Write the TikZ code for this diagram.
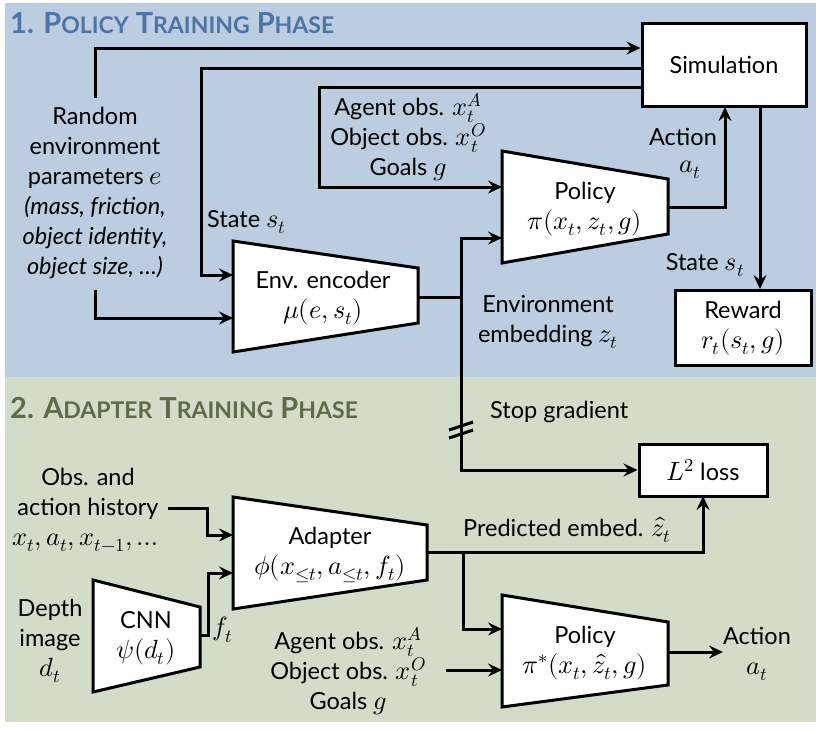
\documentclass[tikz,border=0pt]{standalone}
\usepackage{unicode-math}
\setmainfont{Lato}
\setmathfont{Latin Modern Math}[Scale=1.12]
\usetikzlibrary{arrows.meta}
\newcommand{\tsc}[2]{#1{\fontsize{23}{26}\selectfont #2}}
\begin{document}
\begin{tikzpicture}[x=1pt,y=-1pt,
  every node/.style={font=\fontsize{23.5}{30}\selectfont, inner sep=0pt},
  ln/.style={line width=3pt},
  ar/.style={line width=3pt,-{Stealth[length=14pt,width=13pt,inset=5pt]}},
  blk/.style={draw,line width=3pt,fill=white},
  txt/.style={align=center}]
\useasboundingbox (0,0) rectangle (825,731);
\fill[fill={rgb,255:red,188;green,204;blue,225}] (5,3) rectangle (816,377);
\fill[fill={rgb,255:red,211;green,220;blue,201}] (5,377) rectangle (816,722);
\node[anchor=base west,text={rgb,255:red,78;green,116;blue,166},font=\fontsize{29}{32}\selectfont\bfseries] (t1) at (10,33) {1. \tsc{P}{OLICY} \tsc{T}{RAINING} \tsc{P}{HASE}};
\node[anchor=base west,text={rgb,255:red,90;green,108;blue,72},font=\fontsize{29}{32}\selectfont\bfseries] (t2) at (10,418) {2. \tsc{A}{DAPTER} \tsc{T}{RAINING} \tsc{P}{HASE}};

% boxes
\node[blk,minimum width=164pt,minimum height=83pt] (sim) at (724,65) {Simulation};
\node[blk,minimum width=136pt,minimum height=75pt,txt] (rew) at (743,328) {Reward\\$r_t(s_t,g)$};
\node[blk,minimum width=128pt,minimum height=52pt] (loss) at (703,470) {$L^2$ loss};

% trapezoids
\draw[blk] (233,241) -- (418,268) -- (418,323) -- (233,352) -- cycle;
\node[txt] (enc) at (323,298) {Env. encoder\\$\mu(e,s_t)$};
\draw[blk] (502,151) -- (668,179) -- (668,234) -- (502,263) -- cycle;
\node[txt] (pol) at (585,209) {Policy\\$\pi(x_t,z_t,g)$};
\draw[blk] (233,497) -- (427,525) -- (427,580) -- (233,609) -- cycle;
\node[txt] (ada) at (330,555) {Adapter\\$\phi(x_{\le t},a_{\le t},f_t)$};
\draw[blk] (93,580) -- (200,607) -- (200,667) -- (93,692) -- cycle;
\node[txt] (cnn) at (146,638) {CNN\\$\psi(d_t)$};
\draw[blk] (502,595) -- (668,622) -- (668,685) -- (502,707) -- cycle;
\node[txt] (pol2) at (585,653) {Policy\\$\pi^*(x_t,\hat z_t,g)$};

% texts
\node[txt] (rnd) at (95,193) {Random\\environment\\parameters $e$\\\textit{(mass, friction,}\\\textit{object identity,}\\\textit{object size, \dots)}};
\node[anchor=base west] (st1) at (207,227) {State $s_t$};
\node[txt] (obs1) at (408,137) {Agent obs. $x_t^A$\\Object obs. $x_t^O$\\Goals $g$};
\node (act1) at (683,137) {Action};
\node (at1) at (690,170) {$a_t$};
\node (st2) at (705,265) {State $s_t$};
\node[txt] (emb) at (548,322) {Environment\\embedding $z_t$};
\node[anchor=west] (sg) at (490,412) {Stop gradient};
\node[txt] (hist) at (88,510) {Obs. and\\action history\\$x_t,a_t,x_{t-1},\dots$};
\node[txt] (dep) at (50,641) {Depth\\image\\$d_t$};
\node (ft) at (223,630) {$f_t$};
\node[txt] (obs2) at (348,671) {Agent obs. $x_t^A$\\Object obs. $x_t^O$\\Goals $g$};
\node (pe) at (567,530) {Predicted embed. $\hat z_t$};
\node[txt] (act2) at (757,654) {Action\\$a_t$};

% coordinates
\coordinate (encIn1) at (233,275);
\coordinate (encIn2) at (233,318);
\coordinate (encOut) at (418,297);
\coordinate (polIn1) at (502,187);
\coordinate (polIn2) at (502,238);
\coordinate (polOut) at (668,207);
\coordinate (adaIn1) at (233,535);
\coordinate (adaIn2) at (233,573);
\coordinate (adaOut) at (427,552);
\coordinate (cnnOut) at (200,635);
\coordinate (pol2In1) at (502,629);
\coordinate (pol2In2) at (502,670);
\coordinate (pol2Out) at (668,652);

% connectors
\draw[ar] (95,98) |- (sim.west |- 0,48);
\draw[ar] (sim.west |- 0,68) -| (201,275) -- (encIn1);
\draw[ar] (sim.west |- 0,87) -| (319,187) -- (polIn1);
\draw[ar] (95,290) |- (encIn2);
\draw[ln] (encOut) -- (461,297);
\draw[ar] (461,463) |- (polIn2);
\draw[ar] (461,420) |- (loss.west);
\draw[ln] (449,430) -- (473,422);
\draw[ln] (449,438) -- (473,430);
\draw[ar] (polOut) -| (725,107);
\draw[ar] (760,107) -- (rew.north -| 760,0);
\draw[ar] (168,508) -| (207,535) -- (adaIn1);
\draw[ar] (cnnOut) -| (208,573) -- (adaIn2);
\draw[ar] (adaOut) -| (703,496);
\draw[ar] (463,552) |- (pol2In1);
\draw[ar] (446,670) -- (pol2In2);
\draw[ar] (pol2Out) -- (723,652);
\end{tikzpicture}
\end{document}
